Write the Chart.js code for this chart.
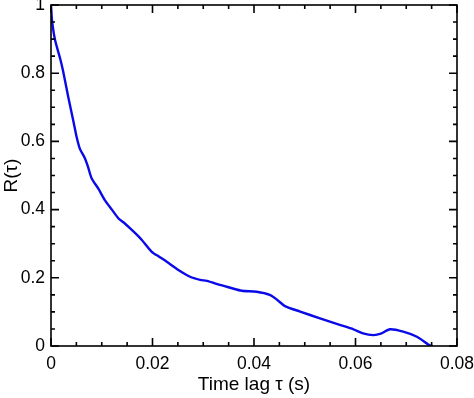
<!DOCTYPE html>
<html>
<head>
<meta charset="utf-8">
<script src="https://cdn.jsdelivr.net/npm/chart.js@4"></script>
<style>
  html, body { margin: 0; padding: 0; background: #fff; }
  #wrap { width: 474px; height: 398px; }
</style>
</head>
<body>
<div id="wrap"><canvas id="corr"></canvas></div>
<script>
// time lag (s) and autocorrelation R(tau)
const lags = [0, 0.0002, 0.0008, 0.0018, 0.0024, 0.0034, 0.0044, 0.0051, 0.0057, 0.0067, 0.0073,
  0.008, 0.0093, 0.0106, 0.012, 0.0133, 0.0145, 0.0156, 0.0168, 0.0179, 0.0198, 0.0213,
  0.0228, 0.0251, 0.0274, 0.0294, 0.0307, 0.0333, 0.0355, 0.0376, 0.0405, 0.0431, 0.0446,
  0.0461, 0.0491, 0.053, 0.0569, 0.0596, 0.0615, 0.0635, 0.065, 0.0668, 0.0694, 0.0721,
  0.0747, 0.0752];
const corr = [1.0, 0.955, 0.897, 0.843, 0.805, 0.73, 0.66, 0.61, 0.578, 0.55, 0.525,
  0.492, 0.462, 0.428, 0.40, 0.374, 0.36, 0.345, 0.328, 0.311, 0.277, 0.262,
  0.247, 0.223, 0.203, 0.194, 0.191, 0.179, 0.17, 0.162, 0.159, 0.15, 0.135,
  0.117, 0.101, 0.081, 0.062, 0.049, 0.037, 0.032, 0.036, 0.049, 0.042, 0.027,
  0.001, 0.0];

const xTicks = [0, 0.02, 0.04, 0.06, 0.08];
const yTicks = [0, 0.2, 0.4, 0.6, 0.8, 1];

const points = lags.map((t, i) => ({ x: t, y: corr[i] }));

// frame + inward ticks on all four sides
const frameTicks = {
  id: "frameTicks",
  afterDatasetsDraw(chart) {
    const { ctx, chartArea: a, scales } = chart;
    ctx.save();
    ctx.strokeStyle = "#000";
    ctx.lineWidth = 1.6;
    ctx.strokeRect(a.left, a.top, a.right - a.left, a.bottom - a.top);
    for (let i = 0; i <= 16; i++) {
      const px = scales.x.getPixelForValue(i * 0.005);
      const len = i % 4 === 0 ? 8 : 4;
      ctx.beginPath();
      ctx.moveTo(px, a.bottom); ctx.lineTo(px, a.bottom - len);
      ctx.moveTo(px, a.top); ctx.lineTo(px, a.top + len);
      ctx.stroke();
    }
    for (let i = 0; i <= 20; i++) {
      const py = scales.y.getPixelForValue(i * 0.05);
      const len = i % 4 === 0 ? 8 : 4;
      ctx.beginPath();
      ctx.moveTo(a.left, py); ctx.lineTo(a.left + len, py);
      ctx.moveTo(a.right, py); ctx.lineTo(a.right - len, py);
      ctx.stroke();
    }
    ctx.restore();
  },
};

Chart.defaults.font.family = "'Liberation Sans', Arial, sans-serif";
Chart.defaults.color = "#000";

new Chart(document.getElementById("corr"), {
  type: "scatter",
  data: {
    datasets: [
      {
        data: points,
        showLine: true,
        borderColor: "#0a0ae8",
        borderWidth: 2.4,
        pointRadius: 0,
        tension: 0.25,
      },
    ],
  },
  options: {
    responsive: true,
    maintainAspectRatio: false,
    animation: false,
    layout: { padding: { top: 5, right: 17, left: 0, bottom: 0 } },
    plugins: { legend: { display: false }, tooltip: { enabled: false } },
    scales: {
      x: {
        type: "linear",
        min: 0,
        max: 0.08,
        afterBuildTicks: (s) => { s.ticks = xTicks.map((v) => ({ value: v })); },
        afterFit: (s) => { s.height = 52; s.paddingLeft = 0; s.paddingRight = 0; },
        grid: { display: false, drawTicks: false },
        border: { display: false },
        ticks: { padding: 8, font: { size: 17.5 }, maxRotation: 0, callback: (v) => String(+v.toFixed(2)) },
        title: { display: true, text: "Time lag τ (s)", font: { size: 19 }, padding: { top: 0, bottom: 2 } },
      },
      y: {
        type: "linear",
        min: 0,
        max: 1,
        afterBuildTicks: (s) => { s.ticks = yTicks.map((v) => ({ value: v })); },
        afterFit: (s) => { s.width = 51; s.paddingTop = 0; s.paddingBottom = 0; },
        grid: { display: false, drawTicks: false },
        border: { display: false },
        ticks: { padding: 6, font: { size: 17.5 }, callback: (v) => String(+v.toFixed(1)) },
        title: { display: true, text: "R(τ)", font: { size: 19 }, padding: { top: 0, bottom: 0 } },
      },
    },
  },
  plugins: [frameTicks],
});
</script>
</body>
</html>
